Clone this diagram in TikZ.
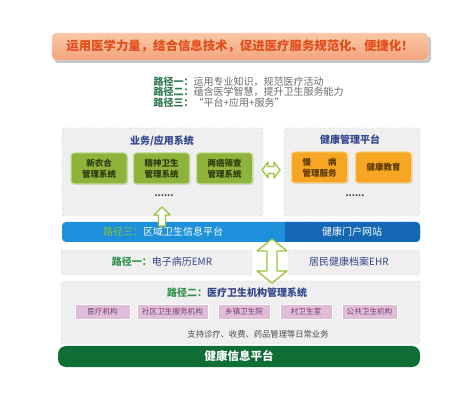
\documentclass[tikz,border=0pt]{standalone}
\usepackage{fontspec}
\setmainfont{Noto Sans CJK SC}
\usetikzlibrary{shadows}

\definecolor{bannertop}{HTML}{F9C8A6}
\definecolor{bannerbot}{HTML}{F3A47C}
\definecolor{bannertext}{HTML}{E14E1C}
\definecolor{pathlabel}{HTML}{2E7A4F}
\definecolor{pathtext}{HTML}{6A6A6A}
\definecolor{titleblue}{HTML}{34468C}
\definecolor{panelfill}{HTML}{EFEFEF}
\definecolor{panelline}{HTML}{C8C8C8}
\definecolor{appgreen}{HTML}{8DB33A}
\definecolor{appline}{HTML}{C6DC93}
\definecolor{apptext}{HTML}{2E3A12}
\definecolor{hmorange}{HTML}{F6A623}
\definecolor{hmline}{HTML}{FCD48A}
\definecolor{hmtext}{HTML}{5B3A05}
\definecolor{barblue}{HTML}{1C90DA}
\definecolor{bardark}{HTML}{1467B3}
\definecolor{barlabel}{HTML}{8CC43F}
\definecolor{pathgreen}{HTML}{33924A}
\definecolor{orgpink}{HTML}{E0BEDA}
\definecolor{orgtext}{HTML}{7A3D72}
\definecolor{infogreen}{HTML}{0F6D36}
\definecolor{linkgreen}{HTML}{9CC33C}

\tikzset{
  banner/.style={rounded corners=4pt, draw=bannertop!60!white, top color=bannertop, bottom color=bannerbot,
    minimum width=376pt, minimum height=27pt, text=bannertext, font=\fontsize{12.4}{14}\selectfont\bfseries},
  panel/.style={draw=panelline, dashed, fill=panelfill, rounded corners=2pt},
  paneltitle/.style={text=titleblue, font=\fontsize{10}{12}\selectfont\bfseries},
  appbox/.style={fill=appgreen, draw=appline, line width=1pt, rounded corners=3pt, align=center,
    minimum width=56pt, minimum height=31pt, text=apptext, font=\fontsize{8.5}{11}\selectfont\bfseries,
    drop shadow={shadow xshift=1pt, shadow yshift=-1pt, opacity=0.25}},
  hmbox/.style={appbox, fill=hmorange, draw=hmline, text=hmtext},
  orgbox/.style={fill=orgpink, draw=white, line width=0.8pt, minimum height=15pt, inner sep=0pt,
    text=orgtext, font=\fontsize{7.6}{9}\selectfont,
    drop shadow={shadow xshift=1pt, shadow yshift=-1pt, opacity=0.25}},
  rowtext/.style={text=titleblue, font=\fontsize{10}{12}\selectfont},
  bartext/.style={text=white, font=\fontsize{10}{12}\selectfont},
  dots/.style={text=black!75, font=\fontsize{9}{9}\selectfont\bfseries},
  linkarrow/.style={fill=white, draw=linkgreen, line width=1.3pt, line join=round},
}

\begin{document}
\begin{tikzpicture}[x=1pt, y=-1pt]
  \useasboundingbox (0,0) rectangle (474,403);

  % Motto banner
  \fill[black!22, rounded corners=4pt] (54,36) rectangle (431,63);
  \node[banner] (motto) at (240,46.5) {运用医学力量，结合信息技术，促进医疗服务规范化、便捷化！};

  % Three paths
  \node[anchor=west, align=left, text=pathtext, font=\fontsize{10}{10.5}\selectfont] (paths) at (150,92)
    {\textcolor{pathlabel}{\bfseries 路径一：}运用专业知识，规范医疗活动\\
     \textcolor{pathlabel}{\bfseries 路径二：}蕴含医学智慧，提升卫生服务能力\\
     \textcolor{pathlabel}{\bfseries 路径三：}“平台+应用+服务”};

  % Business / application systems
  \draw[panel] (62,128) rectangle (263,216);
  \node[paneltitle] (appTitle) at (162,141) {业务/应用系统};
  \node[appbox] (ncms) at (99,168.5) {新农合\\管理系统};
  \node[appbox] (mental) at (161.5,168.5) {精神卫生\\管理系统};
  \node[appbox] (screen) at (224.5,168.5) {两癌筛查\\管理系统};
  \node[dots] (appMore) at (164,196) {......};

  % Health management platform
  \draw[panel] (284,128) rectangle (420,216);
  \node[paneltitle] (hmTitle) at (350,140) {健康管理平台};
  \node[hmbox] (chronic) at (319.5,167.5) {慢\hspace{2em}病\\管理服务};
  \node[hmbox] (educate) at (383.5,167.5) {健康教育};
  \node[dots] (hmMore) at (355,196) {......};

  % Regional platform bar
  \fill[barblue, rounded corners=4pt] (62,222) rectangle (420,242);
  \fill[bardark] (285,222) [rounded corners=4pt] -- (420,222) -- (420,242) [sharp corners] -- (285,242) -- cycle;
  \node[bartext] (region) at (163,232) {\textcolor{barlabel}{路径三：}区域卫生信息平台};
  \node[bartext] (portal) at (352,232) {健康门户网站};

  % EMR / EHR
  \draw[panel] (61,250) rectangle (252,275);
  \draw[panel] (288,250) rectangle (420,275);
  \node[rowtext] (emr) at (162,262) {\textcolor{pathgreen}{\bfseries 路径一：}电子病历EMR};
  \node[rowtext] (ehr) at (349,262) {居民健康档案EHR};

  % Institutions
  \draw[panel] (61,281) rectangle (420,344);
  \node[paneltitle] (orgTitle) at (237,293) {\textcolor{pathgreen}{路径二：}医疗卫生机构管理系统};
  \foreach \cx/\w/\txt/\nm in {102.5/55/医疗机构/hospital, 172.5/71/社区卫生服务机构/community,
      244/52/乡镇卫生院/township, 306/52/村卫生室/village, 369.5/55/公共卫生机构/publichealth} {
    \node[orgbox, minimum width=\w pt] (\nm) at (\cx,311.5) {\txt};
  }
  \node[text=black!70, font=\fontsize{8.3}{10}\selectfont] (daily) at (258,334) {支持诊疗、收费、药品管理等日常业务};

  % Health information platform
  \node[fill=infogreen, rounded corners=8pt, minimum width=362pt, minimum height=21pt, text=white,
    font=\fontsize{11.5}{13}\selectfont\bfseries] (healthInfo) at (239,356.5) {健康信息平台};

  % Hollow link arrows
  \draw[linkarrow] (262,170) -- (268,162) -- (268,166.5) -- (274,166.5) -- (274,162) -- (280,170)
    -- (274,178) -- (274,173.5) -- (268,173.5) -- (268,178) -- cycle;
  \draw[linkarrow] (162,207) -- (170,215) -- (165.5,215) -- (165.5,226) -- (158.5,226) -- (158.5,215)
    -- (154,215) -- cycle;
  \draw[linkarrow] (272,239) -- (287,251) -- (277,251) -- (277,271) -- (287,271) -- (272,283)
    -- (257,271) -- (267,271) -- (267,251) -- (257,251) -- cycle;
\end{tikzpicture}
\end{document}
